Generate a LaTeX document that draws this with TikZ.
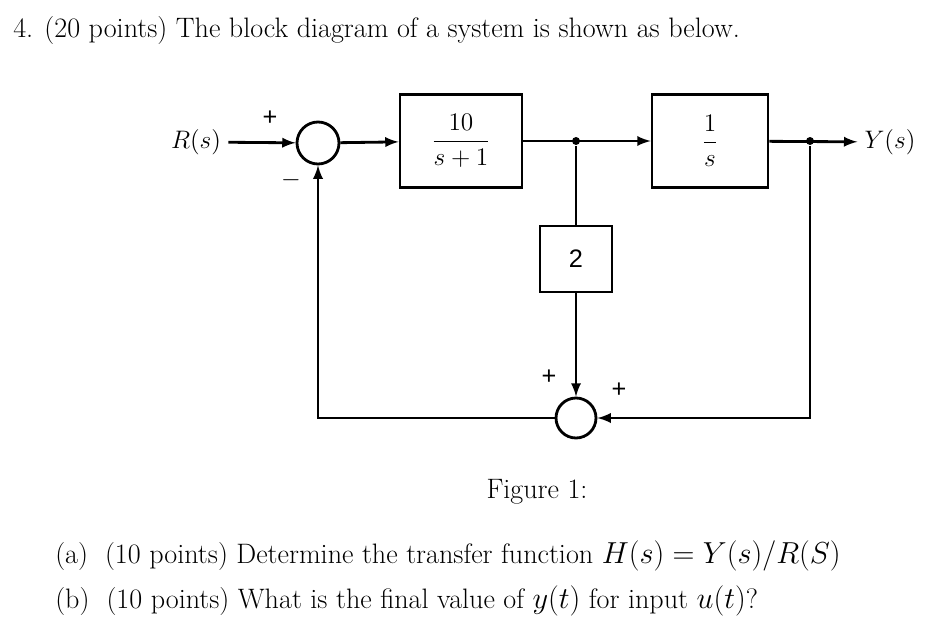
\documentclass[tikz,border=0pt]{standalone}
\usepackage{fontspec}
\newfontfamily\diag{Liberation Sans}
\usetikzlibrary{positioning}
\begin{document}
\begin{tikzpicture}[x=0.02cm,y=-0.02cm,-latex,line width=1.6pt,
blk/.style ={draw, rectangle, font=\diag\Large, inner sep=0pt},
sumj/.style ={draw, circle, minimum size=0.84cm, inner sep=0pt},
dot/.style ={circle, fill, inner sep=1.6pt},
lbl/.style ={font=\diag\Large},
txt/.style ={font=\fontsize{16}{19}\selectfont}
]
\useasboundingbox (0,0) rectangle (952,635);
\node[anchor=west, txt] at (6,30) {4. (20 points) The block diagram of a system is shown as below.};
\node[lbl] (R) at (196,142) {$R(s)$};
\node[sumj] (S1) at (318,143) {};
\node[blk, minimum width=2.44cm, minimum height=1.86cm] (G1) at (461,141) {$\displaystyle\frac{10}{s+1}$};
\node[blk, minimum width=2.32cm, minimum height=1.86cm] (G2) at (710,141) {$\displaystyle\frac{1}{s}$};
\node[blk, minimum width=1.44cm, minimum height=1.32cm] (H) at (576,259) {2};
\node[sumj, minimum size=0.8cm] (S2) at (576,418) {};
\node[dot] (B1) at (576,141) {};
\node[dot] (B2) at (810,141) {};
\node[lbl] (Y) at (890,142) {$Y(s)$};
\node[lbl] at (270,118) {+};
\node[lbl] at (291,180) {$-$};
\node[lbl] at (549,377) {+};
\node[lbl] at (619,390) {+};
\draw (R) -- (S1);
\draw (S1) -- (G1);
\draw (G1) -- (G2);
\draw[-] (B1) -- (H);
\draw (H) -- (S2);
\draw (G2) -- (Y);
\draw (B2) |- (S2);
\draw (S2) -| (S1);
\node[txt] at (537,492) {Figure 1:};
\node[anchor=west, txt] at (48,556) {(a)\ \ (10 points)\ Determine the transfer function $H(s)=Y(s)/R(S)$};
\node[anchor=west, txt] at (48,601) {(b)\ \ (10 points)\ What is the final value of $y(t)$ for input $u(t)$?};
\end{tikzpicture}
\end{document}
